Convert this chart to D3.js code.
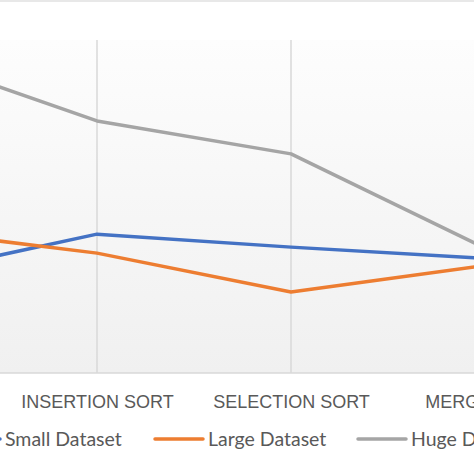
<!DOCTYPE html>
<html>
<head>
<meta charset="utf-8">
<script src="https://cdn.jsdelivr.net/npm/d3@7"></script>
<style>
  html, body { margin: 0; padding: 0; background: #fff; }
  #chart { width: 474px; height: 474px; overflow: hidden; }
</style>
</head>
<body>
<div id="chart"></div>
<script>
// sorting time per algorithm (chart is cropped, first and last category partly off screen)
const categories = ['BUBBLE SORT', 'INSERTION SORT', 'SELECTION SORT', 'MERGE SORT']
const seriesNames = ['Small Dataset', 'Large Dataset', 'Huge Dataset']
const smallData = [29.1, 41.7, 37.8, 34.4]
const largeData = [43.2, 36.0, 24.3, 32.3]
const hugeData = [96.0, 75.7, 65.8, 37.5]
const colors = ['#4472C4', '#ED7D31', '#A5A5A5']

const W = 474
const H = 474
const plot = { top: 40, bottom: 373, left: 0, right: 474 }

const svg = d3.select('#chart')
  .append('svg')
  .attr('width', W)
  .attr('height', H)
  .style('font-family', 'Lato, "Open Sans", sans-serif')

// outer border band at top
svg.append('rect')
  .attr('x', 0).attr('y', 0)
  .attr('width', W).attr('height', 2)
  .attr('fill', '#e8e8e8')

const defs = svg.append('defs')
const grad = defs.append('linearGradient')
  .attr('id', 'bg')
  .attr('x1', 0).attr('y1', 0)
  .attr('x2', 0).attr('y2', 1)
grad.append('stop').attr('offset', '0%').attr('stop-color', '#fdfdfd')
grad.append('stop').attr('offset', '100%').attr('stop-color', '#f0f0f0')

svg.append('rect')
  .attr('x', plot.left).attr('y', plot.top)
  .attr('width', plot.right - plot.left)
  .attr('height', plot.bottom - plot.top)
  .attr('fill', 'url(#bg)')

// the category spacing is 194px, so the first point sits left of the picture
const x = d3.scalePoint()
  .domain(categories)
  .range([-97, 485])

const y = d3.scaleLinear()
  .domain([0, 100])
  .range([plot.bottom, plot.top])

// vertical gridlines at categories
svg.append('g')
  .selectAll('line')
  .data(categories)
  .join('line')
  .attr('x1', d => x(d)).attr('x2', d => x(d))
  .attr('y1', plot.top).attr('y2', plot.bottom)
  .attr('stroke', '#d9d9d9')
  .attr('stroke-width', 1.5)

// category axis
const xAxis = svg.append('g')
  .attr('transform', `translate(0,${plot.bottom})`)
  .call(d3.axisBottom(x).tickSize(0).tickPadding(0))
xAxis.select('.domain')
  .attr('d', `M${plot.left},0H${plot.right}`)
  .attr('stroke', '#d9d9d9')
  .attr('stroke-width', 1.5)
xAxis.selectAll('text')
  .attr('dy', null)
  .attr('y', 35)
  .attr('fill', '#595959')
  .style('font-size', '18px')

const line = d3.line()
  .x((d, i) => x(categories[i]))
  .y(d => y(d))

const series = [smallData, largeData, hugeData]
svg.append('g')
  .selectAll('path')
  .data(series)
  .join('path')
  .attr('d', d => line(d))
  .attr('fill', 'none')
  .attr('stroke', (_, i) => colors[i])
  .attr('stroke-width', 3.5)
  .attr('stroke-linejoin', 'round')

// legend
const legend = svg.append('g')
  .attr('transform', 'translate(-48,439)')
const item = legend.selectAll('g')
  .data(seriesNames)
  .join('g')
  .attr('transform', (_, i) => `translate(${i * 203},0)`)
item.append('line')
  .attr('x1', 0).attr('x2', 48)
  .attr('stroke', (_, i) => colors[i])
  .attr('stroke-width', 3.5)
  .attr('stroke-linecap', 'round')
item.append('text')
  .attr('x', 53)
  .attr('y', 7)
  .attr('fill', '#595959')
  .style('font-size', '19.5px')
  .text(d => d)
</script>
</body>
</html>
